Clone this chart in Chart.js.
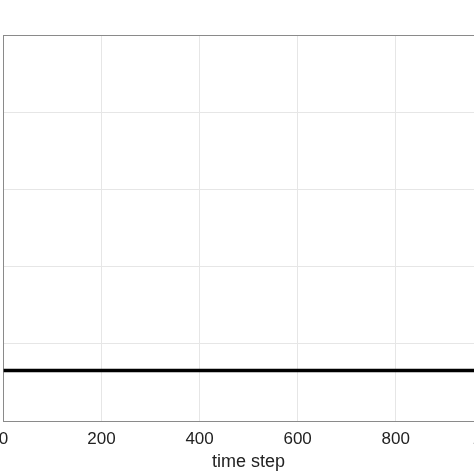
<!DOCTYPE html>
<html>
<head>
<meta charset="utf-8">
<script src="https://cdn.jsdelivr.net/npm/chart.js@4.4.1/dist/chart.umd.min.js"></script>
<style>
  html, body { margin: 0; padding: 0; background: #fff; overflow: hidden; width: 474px; height: 474px; }
  #wrap { position: absolute; left: -80px; top: 0; width: 640px; height: 474px; }
</style>
</head>
<body>
<div id="wrap"><canvas id="chart"></canvas></div>
<script>
// time step vs. value (constant series)
var steps = [0, 100, 200, 300, 400, 500, 600, 700, 800, 900, 1000];
var values = [0.131, 0.131, 0.131, 0.131, 0.131, 0.131, 0.131, 0.131, 0.131, 0.131, 0.131];
var xTicks = [0, 200, 400, 600, 800, 1000];
var yTicks = [0, 0.2, 0.4, 0.6, 0.8, 1];

var axisGray = '#8a8a8a';
var gridGray = '#e6e6e6';
var tickFont = { family: 'Liberation Sans, Arial, Helvetica, sans-serif', size: 17 };
var titleFont = { family: 'Liberation Sans, Arial, Helvetica, sans-serif', size: 18 };

var ctx = document.getElementById('chart').getContext('2d');
var chart = new Chart(ctx, {
    type: 'line',
    data: {
        datasets: [{
            data: steps.map(function (s, i) { return { x: s, y: values[i] }; }),
            borderColor: '#000',
            borderWidth: 3.5,
            pointRadius: 0,
            fill: false,
            tension: 0
        }]
    },
    options: {
        responsive: true,
        maintainAspectRatio: false,
        animation: false,
        // plot box: page x 3.4 .. 493.8, y 35 .. 421
        layout: { padding: { left: 83.4, right: 66.2, top: 35, bottom: 0 } },
        plugins: { legend: { display: false }, tooltip: { enabled: false } },
        scales: {
            x: {
                type: 'linear',
                position: 'bottom',
                min: 0,
                max: 1000,
                afterBuildTicks: function (s) { s.ticks = xTicks.map(function (v) { return { value: v }; }); },
                afterFit: function (s) { s.height = 53; },
                grid: { color: gridGray, drawTicks: false },
                border: { color: axisGray, width: 1 },
                ticks: { color: '#222', font: tickFont, padding: 8.5, maxRotation: 0 },
                title: { display: true, text: 'time step', color: '#222', font: titleFont, padding: { top: 0, bottom: 1 } }
            },
            x2: {
                type: 'linear',
                position: 'top',
                min: 0,
                max: 1000,
                afterFit: function (s) { s.height = 0; },
                grid: { display: false },
                border: { color: axisGray, width: 1 },
                ticks: { display: false }
            },
            y: {
                type: 'linear',
                min: 0,
                max: 1,
                afterBuildTicks: function (s) { s.ticks = yTicks.map(function (v) { return { value: v }; }); },
                afterFit: function (s) { s.width = 0; },
                grid: { color: gridGray, drawTicks: false },
                border: { color: axisGray, width: 1 },
                ticks: { display: false }
            }
        }
    }
});
</script>
</body>
</html>
